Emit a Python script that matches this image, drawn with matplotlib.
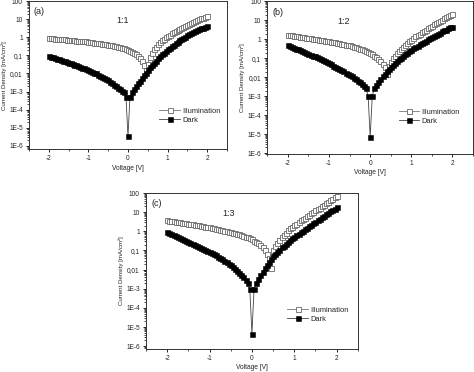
import matplotlib
matplotlib.use("Agg")
import matplotlib.pyplot as plt
from matplotlib.ticker import FixedLocator, LogLocator, NullFormatter, MultipleLocator

plt.rcParams["font.family"] = ["Liberation Sans", "DejaVu Sans"]

# applied voltage sweep [V]
voltage = [-2.00, -1.95, -1.90, -1.85, -1.80, -1.75, -1.70, -1.65, -1.60, -1.55,
           -1.50, -1.45, -1.40, -1.35, -1.30, -1.25, -1.20, -1.15, -1.10, -1.05,
           -1.00, -0.95, -0.90, -0.85, -0.80, -0.75, -0.70, -0.65, -0.60, -0.55,
           -0.50, -0.45, -0.40, -0.35, -0.30, -0.25, -0.20, -0.15, -0.10, -0.05,
           0.00, 0.05, 0.10, 0.15, 0.20, 0.25, 0.30, 0.35, 0.40, 0.45,
           0.50, 0.55, 0.60, 0.65, 0.70, 0.75, 0.80, 0.85, 0.90, 0.95,
           1.00, 1.05, 1.10, 1.15, 1.20, 1.25, 1.30, 1.35, 1.40, 1.45,
           1.50, 1.55, 1.60, 1.65, 1.70, 1.75, 1.80, 1.85, 1.90, 1.95, 2.00]

# |J| in mA/cm2, ratio 1:1
illum_11 = [0.912, 0.891, 0.871, 0.851, 0.832, 0.813, 0.794, 0.776, 0.759, 0.741,
            0.724, 0.708, 0.692, 0.676, 0.661, 0.646, 0.631, 0.617, 0.603, 0.589,
            0.575, 0.550, 0.537, 0.513, 0.501, 0.479, 0.468, 0.447, 0.427, 0.407,
            0.389, 0.372, 0.355, 0.331, 0.316, 0.295, 0.275, 0.257, 0.240, 0.219,
            0.200, 0.182, 0.162, 0.141, 0.120, 0.0977, 0.0741, 0.0501, 0.0282, 0.0158,
            0.0355, 0.0794, 0.141, 0.219, 0.309, 0.417, 0.537, 0.676, 0.832, 1.00,
            1.17, 1.38, 1.62, 1.91, 2.19, 2.51, 2.88, 3.31, 3.72, 4.27,
            4.79, 5.50, 6.17, 6.92, 7.76, 8.71, 9.77, 11.0, 12.3, 13.8, 15.5]
dark_11 = [0.089, 0.083, 0.078, 0.071, 0.066, 0.060, 0.056, 0.051, 0.048, 0.044,
           0.040, 0.037, 0.034, 0.031, 0.028, 0.026, 0.023, 0.021, 0.019, 0.017,
           0.016, 0.014, 0.0126, 0.0112, 0.0100, 0.0087, 0.0076, 0.0066, 0.0056, 0.0048,
           0.0041, 0.0034, 0.0028, 0.0023, 0.0019, 0.0015, 0.0013, 0.0011, 0.0010, 0.0005,
           3.3e-6, 0.0005, 0.0010, 0.00141, 0.0020, 0.00282, 0.00398, 0.00562, 0.00794, 0.0112,
           0.0155, 0.0214, 0.0288, 0.0389, 0.0513, 0.0676, 0.0871, 0.112, 0.141, 0.178,
           0.219, 0.269, 0.331, 0.398, 0.479, 0.575, 0.676, 0.794, 0.933, 1.10,
           1.26, 1.45, 1.66, 1.91, 2.14, 2.45, 2.75, 3.09, 3.47, 3.89, 4.37]

# ratio 1:2
illum_12 = [1.78, 1.70, 1.62, 1.58, 1.51, 1.45, 1.38, 1.32, 1.29, 1.23,
            1.17, 1.12, 1.10, 1.05, 1.00, 0.977, 0.933, 0.891, 0.871, 0.832,
            0.794, 0.759, 0.724, 0.692, 0.661, 0.631, 0.603, 0.575, 0.537, 0.513,
            0.479, 0.447, 0.417, 0.389, 0.355, 0.324, 0.295, 0.263, 0.234, 0.209,
            0.186, 0.162, 0.138, 0.115, 0.0933, 0.0724, 0.0525, 0.0331, 0.0158, 0.0398,
            0.0661, 0.100, 0.141, 0.191, 0.251, 0.324, 0.407, 0.513, 0.646, 0.794,
            0.977, 1.20, 1.45, 1.74, 2.04, 2.40, 2.82, 3.31, 3.89, 4.57,
            5.37, 6.17, 7.24, 8.32, 9.55, 11.2, 12.9, 14.8, 17.0, 19.5, 22.4]
dark_12 = [0.479, 0.437, 0.398, 0.355, 0.324, 0.295, 0.263, 0.240, 0.214, 0.195,
           0.174, 0.158, 0.141, 0.126, 0.112, 0.100, 0.0891, 0.0794, 0.0692, 0.0617,
           0.0537, 0.0479, 0.0417, 0.0363, 0.0316, 0.0275, 0.0240, 0.0209, 0.0178, 0.0155,
           0.0132, 0.0112, 0.00955, 0.00794, 0.00661, 0.00537, 0.00437, 0.00347, 0.00269, 0.00100,
           7.1e-6, 0.00100, 0.00269, 0.00398, 0.00575, 0.00813, 0.0112, 0.0155, 0.0209, 0.0269,
           0.0347, 0.0447, 0.0562, 0.0708, 0.0871, 0.107, 0.132, 0.162, 0.195, 0.234,
           0.282, 0.339, 0.398, 0.468, 0.550, 0.646, 0.759, 0.871, 1.02, 1.17,
           1.35, 1.55, 1.78, 2.04, 2.29, 2.63, 2.95, 3.31, 3.80, 4.27, 4.79]

# ratio 1:3
illum_13 = [3.72, 3.55, 3.47, 3.31, 3.16, 3.09, 2.95, 2.82, 2.75, 2.63,
            2.51, 2.40, 2.34, 2.24, 2.14, 2.04, 1.95, 1.86, 1.78, 1.70,
            1.62, 1.55, 1.45, 1.38, 1.32, 1.23, 1.17, 1.10, 1.05, 0.977,
            0.912, 0.851, 0.794, 0.741, 0.692, 0.631, 0.575, 0.525, 0.479, 0.427,
            0.380, 0.331, 0.282, 0.234, 0.191, 0.148, 0.105, 0.0661, 0.0398, 0.0126,
            0.100, 0.166, 0.251, 0.355, 0.501, 0.661, 0.871, 1.12, 1.41, 1.74,
            2.14, 2.57, 3.09, 3.72, 4.37, 5.25, 6.17, 7.41, 8.71, 10.5,
            12.3, 14.8, 17.4, 20.9, 24.5, 29.5, 34.7, 41.7, 49.0, 58.9, 69.2]
dark_13 = [0.955, 0.851, 0.759, 0.676, 0.589, 0.525, 0.468, 0.417, 0.372, 0.324,
           0.288, 0.257, 0.229, 0.200, 0.178, 0.155, 0.138, 0.120, 0.107, 0.0933,
           0.0832, 0.0724, 0.0631, 0.0550, 0.0468, 0.0407, 0.0347, 0.0295, 0.0251, 0.0209,
           0.0174, 0.0141, 0.0112, 0.00891, 0.00692, 0.00525, 0.00389, 0.00282, 0.00191, 0.000955,
           4.4e-6, 0.000955, 0.00191, 0.00316, 0.00501, 0.00776, 0.0117, 0.0174, 0.0251, 0.0355,
           0.0490, 0.0661, 0.0871, 0.112, 0.145, 0.182, 0.229, 0.282, 0.347, 0.427,
           0.513, 0.617, 0.741, 0.891, 1.07, 1.29, 1.55, 1.86, 2.24, 2.63,
           3.16, 3.80, 4.57, 5.37, 6.46, 7.76, 9.12, 11.0, 13.2, 15.5, 18.6]

ytick_vals = [1e-6, 1e-5, 1e-4, 1e-3, 0.01, 0.1, 1, 10, 100]
ytick_labels = ["1E-6", "1E-5", "1E-4", "1E-3", "0,01", "0,1", "1", "10", "100"]
xtick_vals = [-2, -1, 0, 1, 2]
xtick_labels = ["-2", "-1", "0", "1", "2"]

txt = "#222222"
fig = plt.figure(figsize=(4.74, 3.72), dpi=100)


def panel(rect, illum, dark, tag, ratio, ratio_x, ybottom, leg_anchor):
    ax = fig.add_axes(rect)
    ax.plot(voltage, illum, "-s", color="#777777", lw=0.6, ms=3.6,
            mfc="white", mec="#666666", mew=0.6, label="Illumination")
    ax.plot(voltage, dark, "-s", color="#444444", lw=0.6, ms=3.6,
            mfc="black", mec="black", mew=0.4, label="Dark")
    ax.set_yscale("log")
    ax.set_xlim(-2.5, 2.5)
    ax.set_ylim(ybottom, 100)
    ax.yaxis.set_major_locator(FixedLocator(ytick_vals))
    ax.set_yticklabels(ytick_labels)
    ax.yaxis.set_minor_locator(LogLocator(base=10, subs=range(2, 10), numticks=20))
    ax.yaxis.set_minor_formatter(NullFormatter())
    ax.set_xticks(xtick_vals)
    ax.set_xticklabels(xtick_labels)
    ax.xaxis.set_minor_locator(MultipleLocator(0.5))
    ax.tick_params(which="major", direction="out", length=2.5, width=0.6,
                   labelsize=4.7, pad=2, colors="black", labelcolor=txt)
    ax.tick_params(which="minor", direction="out", length=1.4, width=0.5)
    for s in ax.spines.values():
        s.set_linewidth(0.7)
        s.set_color("#333333")
    ax.set_xlabel("Voltage [V]", fontsize=4.8, color=txt, labelpad=1.5)
    ax.set_ylabel("Current Density [mA/cm²]", fontsize=4.4, color=txt, labelpad=1.5)
    ax.text(0.025, 0.93, tag, transform=ax.transAxes, fontsize=6.5, color=txt,
            va="center", ha="left")
    ax.text(ratio_x, 0.87, ratio, transform=ax.transAxes, fontsize=6.5, color=txt,
            va="center", ha="left")
    ax.legend(loc="center left", bbox_to_anchor=leg_anchor, frameon=False,
              fontsize=5.4, handlelength=2.7, handletextpad=0.3,
              labelspacing=0.25, borderpad=0, labelcolor=txt)
    return ax


panel([0.061, 0.599, 0.418, 0.398], illum_11, dark_11, "(a)", "1:1", 0.44,
      6.5e-7, (0.64, 0.225))
panel([0.564, 0.586, 0.434, 0.410], illum_12, dark_12, "(b)", "1:2", 0.34,
      9e-7, (0.62, 0.245))
panel([0.308, 0.062, 0.447, 0.419], illum_13, dark_13, "(c)", "1:3", 0.36,
      7.2e-7, (0.65, 0.22))

fig.savefig("out.png", dpi=100)
